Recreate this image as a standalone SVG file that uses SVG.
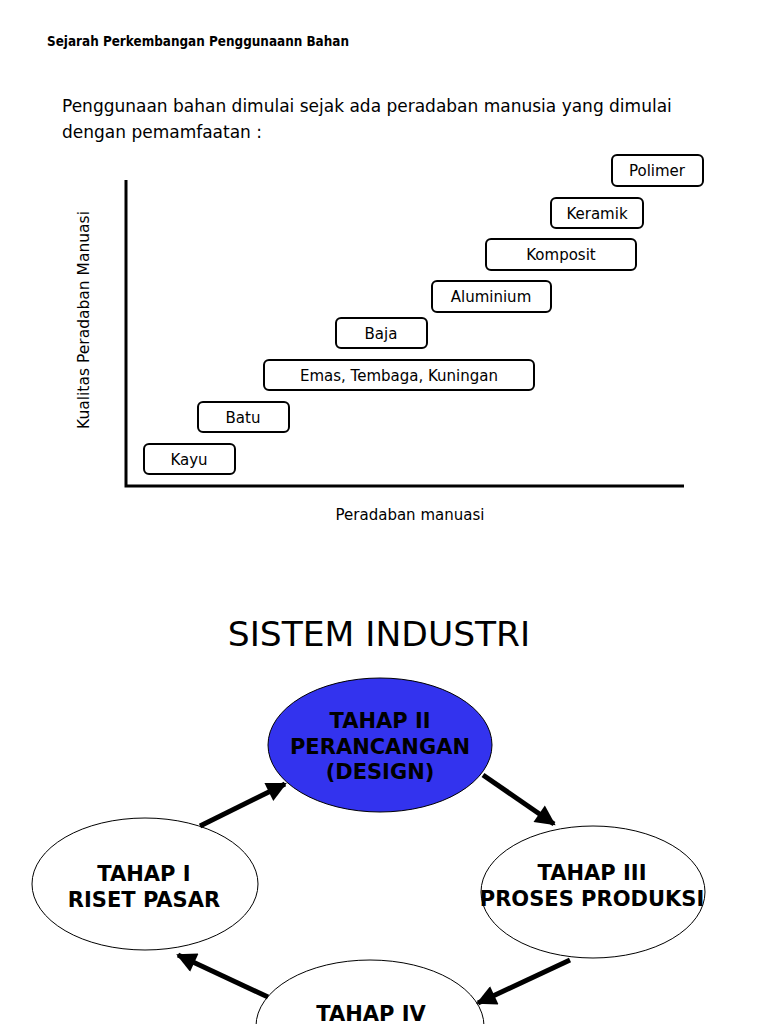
<svg xmlns="http://www.w3.org/2000/svg" width="768" height="1024" viewBox="0 0 768 1024">
<style>
.t{font-family:"DejaVu Sans","Liberation Sans",sans-serif;fill:#000}
.box rect{fill:#fff;stroke:#000;stroke-width:2}
.box text{font-family:"DejaVu Sans","Liberation Sans",sans-serif;font-size:15px;text-anchor:middle}
.axis{stroke:#000;stroke-width:3;fill:none}
.ell ellipse{stroke:#000;stroke-width:1}
.ell text{font-family:"DejaVu Sans","Liberation Sans",sans-serif;font-weight:bold;font-size:21px;text-anchor:middle}
.arr{stroke:#000;stroke-width:5;fill:none;marker-end:url(#ah)}
</style>
<defs>
<marker id="ah" viewBox="0 0 10 10" refX="9" refY="5" markerWidth="4.4" markerHeight="4" markerUnits="strokeWidth" orient="auto">
<path d="M0,0 L10,5 L0,10 Z" fill="#000"/>
</marker>
</defs>
<rect width="768" height="1024" fill="#fff"/>
<text class="t" x="47" y="46" font-size="14.5" font-weight="bold" textLength="302" lengthAdjust="spacingAndGlyphs">Sejarah Perkembangan Penggunaann Bahan</text>
<text class="t" x="62" y="112" font-size="17">Penggunaan bahan dimulai sejak ada peradaban manusia yang dimulai</text>
<text class="t" x="62" y="138" font-size="17">dengan pemamfaatan :</text>
<g id="axes">
<path class="axis" d="M126,180 L126,486 L684,486"/>
<text class="t" font-size="15.5" text-anchor="middle" transform="translate(89,320) rotate(-90)">Kualitas Peradaban Manuasi</text>
<text class="t" font-size="15" text-anchor="middle" x="410" y="520">Peradaban manuasi</text>
</g>
<g id="polimer" class="box"><rect x="612" y="155" width="91" height="31" rx="5"/><text x="657" y="176">Polimer</text></g>
<g id="keramik" class="box"><rect x="551" y="198" width="92" height="30" rx="5"/><text x="597" y="219">Keramik</text></g>
<g id="komposit" class="box"><rect x="486" y="239" width="150" height="31" rx="5"/><text x="561" y="260">Komposit</text></g>
<g id="aluminium" class="box"><rect x="432" y="281" width="119" height="31" rx="5"/><text x="491" y="302">Aluminium</text></g>
<g id="baja" class="box"><rect x="336" y="318" width="91" height="30" rx="5"/><text x="381" y="339">Baja</text></g>
<g id="emas" class="box"><rect x="264" y="360" width="270" height="30" rx="5"/><text x="399" y="381">Emas, Tembaga, Kuningan</text></g>
<g id="batu" class="box"><rect x="198" y="402" width="91" height="30" rx="5"/><text x="243" y="423">Batu</text></g>
<g id="kayu" class="box"><rect x="144" y="444" width="91" height="30" rx="5"/><text x="189" y="465">Kayu</text></g>
<text class="t" x="379" y="646" font-size="34.5" text-anchor="middle">SISTEM INDUSTRI</text>
<g id="tahap2" class="ell"><ellipse cx="380" cy="745" rx="112" ry="67" fill="#3333ee"/><text x="380" y="728">TAHAP II</text><text x="380" y="754">PERANCANGAN</text><text x="380" y="779">(DESIGN)</text></g>
<g id="tahap1" class="ell"><ellipse cx="145" cy="884" rx="113" ry="66" fill="#fff"/><text x="144" y="881">TAHAP I</text><text x="144" y="907">RISET PASAR</text></g>
<g id="tahap3" class="ell"><ellipse cx="593" cy="892" rx="112" ry="66" fill="#fff"/><text x="592" y="880">TAHAP III</text><text x="592" y="906">PROSES PRODUKSI</text></g>
<g id="tahap4" class="ell"><ellipse cx="370" cy="1026" rx="114" ry="66" fill="#fff"/><text x="371" y="1021">TAHAP IV</text></g>
<g id="connectors">
<line class="arr" x1="200" y1="826" x2="285" y2="784"/>
<line class="arr" x1="483" y1="775" x2="554" y2="824"/>
<line class="arr" x1="570" y1="960" x2="478" y2="1003"/>
<line class="arr" x1="268" y1="997" x2="178" y2="955"/>
</g>
</svg>
